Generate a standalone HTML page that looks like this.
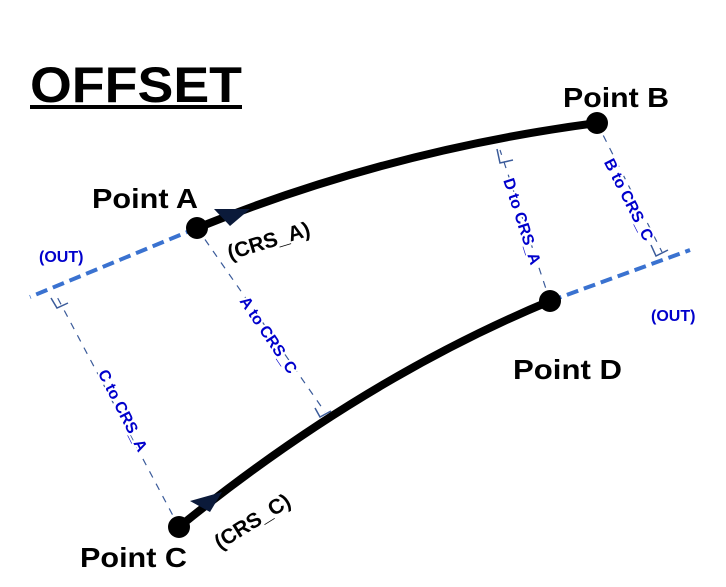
<!DOCTYPE html>
<html><head><style>
body{margin:0;background:#fff;}
svg{display:block;font-family:"Liberation Sans",sans-serif;}
.pt{font-weight:bold;font-size:28px;fill:#000;}
.bl{font-weight:bold;font-size:16px;fill:#0000cc;stroke:#fff;stroke-width:4px;paint-order:stroke;}
.cr{font-size:21px;fill:#000;font-weight:bold;}
</style></head><body>
<svg width="726" height="587" viewBox="0 0 726 587">
<text x="30" y="102" font-size="50" font-weight="bold" fill="#000" textLength="212" lengthAdjust="spacingAndGlyphs">OFFSET</text>
<rect x="30" y="105" width="212" height="4" fill="#000"/>
<g stroke="#3b5b9a" stroke-width="1.2" stroke-dasharray="7,7" fill="none">
<path d="M197 228 L325 412"/>
<path d="M179 527 L55 293"/>
<path d="M550 301 L500 150"/>
<path d="M597 123 L662 252"/>
</g>
<g stroke="#3b5b9a" stroke-width="1.5" fill="none">
<path d="M315 408 L320 417 L331 411"/>
<path d="M51 298 L57 308 L68 303"/>
<path d="M497 149 L500 163 L513 160"/>
<path d="M651 245 L656 256 L668 250"/>
</g>
<g stroke="#3a72d0" stroke-width="4" stroke-dasharray="12,6" fill="none">
<path d="M197 228 L30 297"/>
<path d="M550 301 L690 250"/>
</g>
<g stroke="#000" stroke-width="8" fill="none">
<path d="M197 228 Q390 150 597 123"/>
<path d="M179 527 Q360 380 550 301"/>
</g>
<circle cx="197" cy="228" r="11" fill="#000"/>
<circle cx="597" cy="123" r="11" fill="#000"/>
<circle cx="179" cy="527" r="11" fill="#000"/>
<circle cx="550" cy="301" r="11" fill="#000"/>
<polygon points="214,209 250,209 230,226" fill="#0b1a3a"/>
<polygon points="190,501 222,492 210,512" fill="#0b1a3a"/>
<text class="pt" x="92" y="208" textLength="106" lengthAdjust="spacingAndGlyphs">Point A</text>
<text class="pt" x="563" y="107" textLength="106" lengthAdjust="spacingAndGlyphs">Point B</text>
<text class="pt" x="80" y="567" textLength="107" lengthAdjust="spacingAndGlyphs">Point C</text>
<text class="pt" x="513" y="379" textLength="109" lengthAdjust="spacingAndGlyphs">Point D</text>
<text class="cr" transform="translate(230,260) rotate(-17)">(CRS_A)</text>
<text class="cr" transform="translate(220,550) rotate(-32)">(CRS_C)</text>
<text class="bl" x="39" y="262" font-size="15" style="stroke:none">(OUT)</text>
<text class="bl" x="651" y="321" font-size="15" style="stroke:none">(OUT)</text>
<text class="bl" text-anchor="middle" transform="translate(264,338) rotate(56)">A to CRS_C</text>
<text class="bl" text-anchor="middle" transform="translate(118,413) rotate(63)">C to CRS_A</text>
<text class="bl" text-anchor="middle" transform="translate(517,223) rotate(72)">D to CRS_A</text>
<text class="bl" text-anchor="middle" transform="translate(624,202) rotate(63)">B to CRS_C</text>
</svg>
</body></html>
